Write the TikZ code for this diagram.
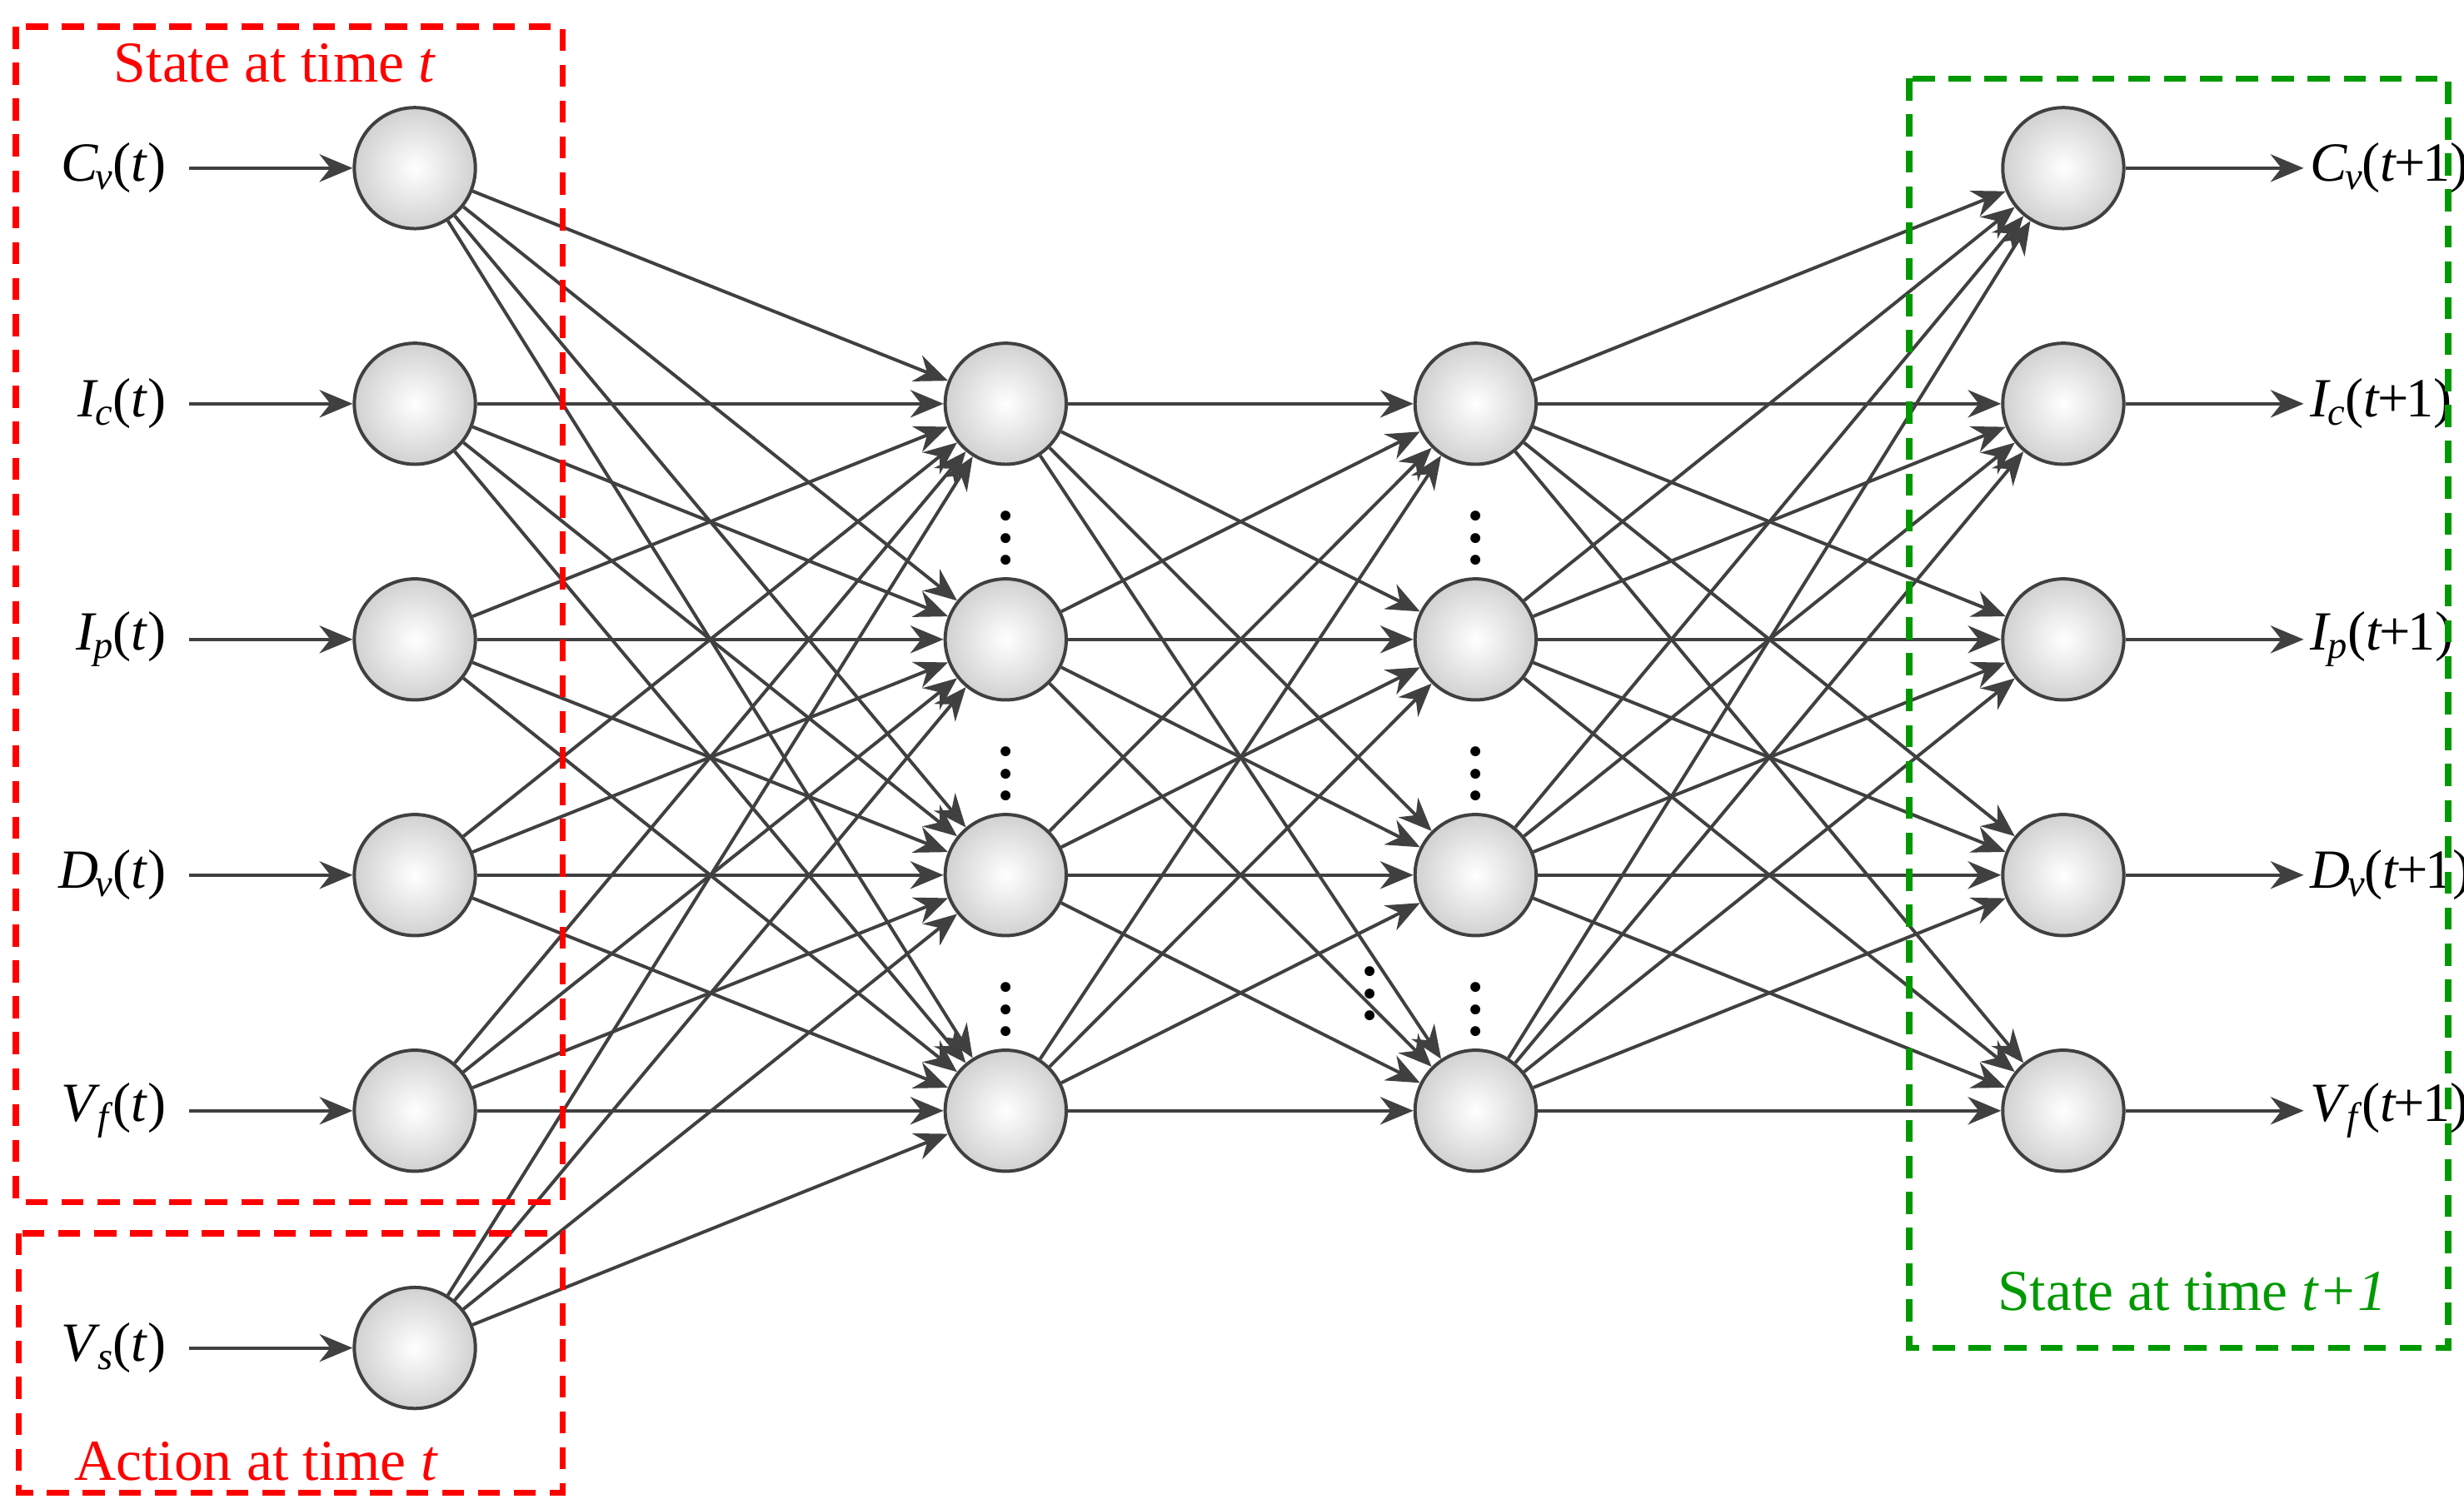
\documentclass[tikz,border=0pt]{standalone}
\usepackage{fontspec}
\setmainfont{Liberation Serif}
\usetikzlibrary{arrows.meta}
\newcommand{\lbl}[3]{\textit{#1}\kern-0.5pt\textsubscript{\textit{#2}}\kern-0.5pt(\textit{t}#3)}
\begin{document}
\begin{tikzpicture}[x=0.01cm,y=-0.01cm,
  neuron/.style={circle,minimum size=0.77cm,inner sep=0pt,draw=black!75,line width=0.6pt,inner color=white,outer color=black!18},
  conn/.style={draw=black!75,line width=0.6pt,-{Stealth[length=6pt,width=5pt]}},
  lab/.style={font=\fontsize{10}{12}\selectfont},
  tit/.style={font=\fontsize{10.5}{12}\selectfont},
  dotsn/.style={font=\fontsize{11}{13}\selectfont\bfseries,inner sep=0pt},
  box/.style={line width=1.1pt,dash pattern=on 4pt off 2.5pt}]
\useasboundingbox (0,0) rectangle (1568,960);
\foreach \i/\y in {1/107,2/257,3/407,4/557,5/707}{
  \node[neuron] (a\i) at (264,\y) {};
  \node[neuron] (d\i) at (1313,\y) {};
}
\node[neuron] (a6) at (264,858) {};
\foreach \i/\y in {1/257,2/407,3/557,4/707}{
  \node[neuron] (b\i) at (640,\y) {};
  \node[neuron] (c\i) at (939,\y) {};
}
\foreach \i/\a/\b in {1/C/v,2/I/c,3/I/p,4/D/v,5/V/f,6/V/s}{
  \node[lab,anchor=east,inner sep=1pt] (in\i) at (110,{\i<6 ? 107+150*(\i-1) : 858}) {\lbl{\a}{\b}{}};
  \draw[conn] (in\i.east) ++(3pt,0) -- (a\i.west);
}
\foreach \i/\a/\b in {1/C/v,2/I/c,3/I/p,4/D/v,5/V/f}{
  \node[lab,anchor=west,inner sep=1pt] (out\i) at (1466,{107+150*(\i-1)}) {\lbl{\a}{\b}{\kern-0.5pt+\kern-0.5pt1}};
  \draw[conn] (d\i.east) -- (out\i.west);
}
\foreach \i in {1,...,6}{\foreach \j in {1,...,4}{\draw[conn] (a\i) -- (b\j);}}
\foreach \i in {1,...,4}{\foreach \j in {1,...,4}{\draw[conn] (b\i) -- (c\j);}}
\foreach \i in {1,...,4}{\foreach \j in {1,...,5}{\draw[conn] (c\i) -- (d\j);}}
\foreach \x/\n in {640/b,939/c}{\foreach \y in {332,482,632}{
  \node[dotsn] (\n dots\y) at (\x,\y) {$\vdots$};}}
\node[dotsn] (strayd) at (872,622) {$\vdots$};
\draw[red,box] (10,17) rectangle (358,765);
\draw[red,box] (12,785) rectangle (358,950);
\draw[green!60!black,box] (1215,50) rectangle (1558,858);
\node[tit,red] (t1) at (175,40) {State at time \textit{t}};
\node[tit,red] (t2) at (163,930) {Action at time \textit{t}};
\node[tit,green!60!black] (t3) at (1395,822) {State at time \textit{t+1}};
\end{tikzpicture}
\end{document}
